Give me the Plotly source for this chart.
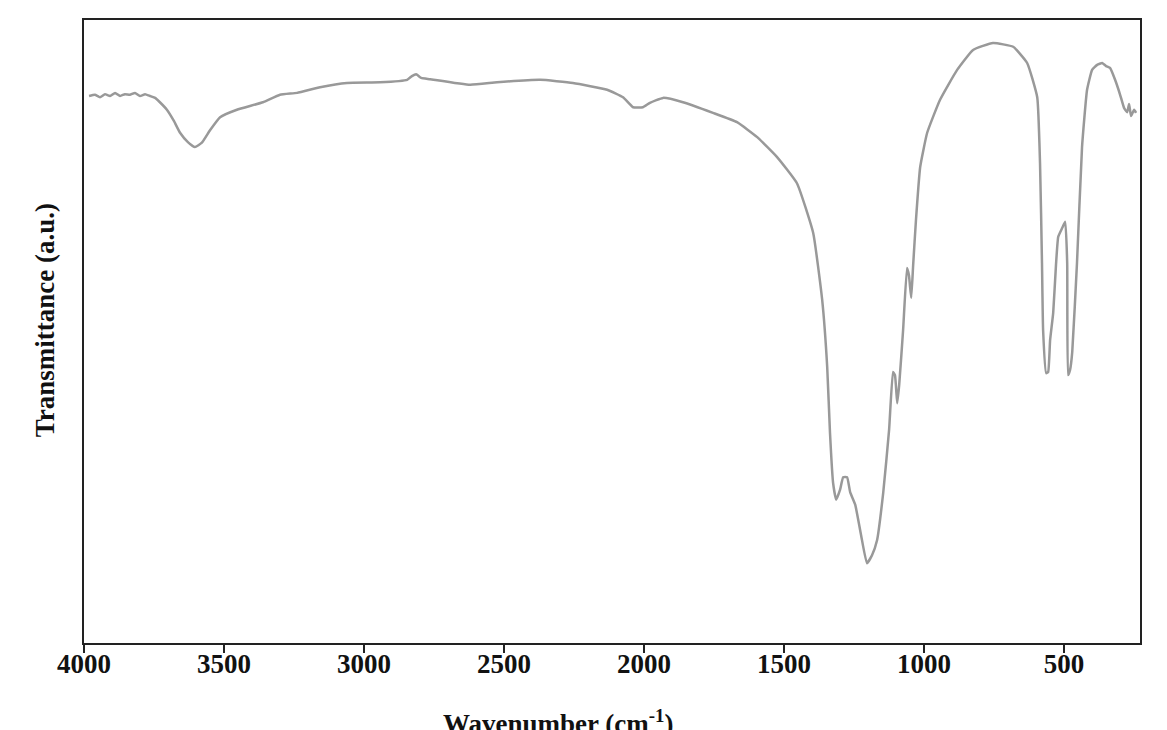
import plotly.graph_objects as go

wavenumber = [3982, 3961, 3943, 3925, 3907, 3889, 3871, 3854, 3836, 3818, 3800, 3782, 3764, 3746, 3729,
              3704, 3679, 3657, 3629, 3604, 3579, 3550, 3514, 3454, 3361, 3300, 3239, 3157, 3061, 2943,
              2846, 2829, 2814, 2796, 2764, 2621, 2525, 2371, 2254, 2132, 2075, 2039, 2004, 1979, 1932,
              1861, 1754, 1668, 1596, 1525, 1454, 1396, 1364, 1346, 1336, 1325, 1314, 1300, 1289, 1275,
              1264, 1246, 1225, 1204, 1186, 1168, 1146, 1125, 1111, 1104, 1096, 1089, 1075, 1061, 1054,
              1046, 1039, 1029, 1014, 989, 943, 882, 825, 754, 682, 632, 596, 586, 579, 575,
              564, 557, 550, 539, 529, 521, 507, 496, 489, 486, 479, 471, 454, 436, 418,
              400, 382, 364, 350, 336, 318, 300, 286, 275, 268, 261, 250, 243]
transmittance = [87.8, 88.0, 87.6, 88.1, 87.8, 88.3, 87.8, 88.1, 88.0, 88.3, 87.8, 88.1, 87.8, 87.5, 86.8,
                 85.6, 83.8, 81.9, 80.4, 79.6, 80.3, 82.3, 84.4, 85.6, 86.8, 88.0, 88.3, 89.2, 89.9, 90.0,
                 90.4, 91.0, 91.3, 90.7, 90.5, 89.6, 90.0, 90.4, 89.9, 88.8, 87.6, 86.0, 86.0, 86.7, 87.5,
                 86.8, 85.1, 83.6, 81.2, 78.0, 73.8, 65.8, 55.1, 44.3, 33.7, 25.7, 23.0, 24.6, 26.6, 26.6,
                 24.2, 22.2, 17.3, 12.8, 14.1, 16.5, 24.1, 34.2, 43.5, 43.0, 38.5, 41.4, 50.2, 60.2, 59.0,
                 55.4, 60.7, 67.9, 76.4, 81.9, 87.2, 92.0, 95.2, 96.3, 95.7, 93.1, 87.6, 77.0, 61.0, 50.2,
                 43.3, 43.5, 48.6, 53.0, 60.7, 65.2, 66.6, 67.6, 61.0, 43.0, 43.8, 46.7, 61.0, 79.6, 88.8,
                 92.0, 92.8, 93.1, 92.6, 92.3, 90.4, 88.0, 85.9, 85.2, 86.5, 84.6, 85.6, 85.1]

tick_values = [4000, 3500, 3000, 2500, 2000, 1500, 1000, 500]
tick_labels = ["4000", "3500", "3000", "2500", "2000", "1500", "1000", "500"]

fig = go.Figure()
fig.add_trace(go.Scatter(x=wavenumber, y=transmittance, mode="lines",
                         line=dict(color="#999999", width=2.5, shape="spline", smoothing=0.4),
                         showlegend=False, hoverinfo="skip"))

text_font = dict(family="Liberation Serif, Times New Roman, serif", size=27,
                 color="#111111", weight="bold")

fig.update_layout(
    width=1167, height=730,
    margin=dict(l=84, r=27, t=20, b=87),
    paper_bgcolor="white", plot_bgcolor="white",
    xaxis=dict(range=[4000, 229], tickvals=tick_values, ticktext=tick_labels,
               ticks="outside", ticklen=8, tickwidth=1.5, tickcolor="#222222",
               ticklabelstandoff=-12,
               showline=True, linecolor="#222222", linewidth=2, mirror=True,
               showgrid=False, zeroline=False, tickfont=text_font),
    yaxis=dict(range=[0, 100], showticklabels=False, ticks="",
               showline=True, linecolor="#222222", linewidth=2, mirror=True,
               showgrid=False, zeroline=False),
    annotations=[
        dict(text="Wavenumber (cm<sup>-1</sup>)", xref="paper", yref="paper",
             x=0.449, y=-0.096, xanchor="center", yanchor="top", showarrow=False,
             font=text_font),
        dict(text="Transmittance (a.u.)", xref="paper", yref="paper",
             x=-0.037, y=0.518, xanchor="center", yanchor="middle", textangle=-90,
             showarrow=False, font=text_font),
    ],
)

fig.write_html("out.html")
